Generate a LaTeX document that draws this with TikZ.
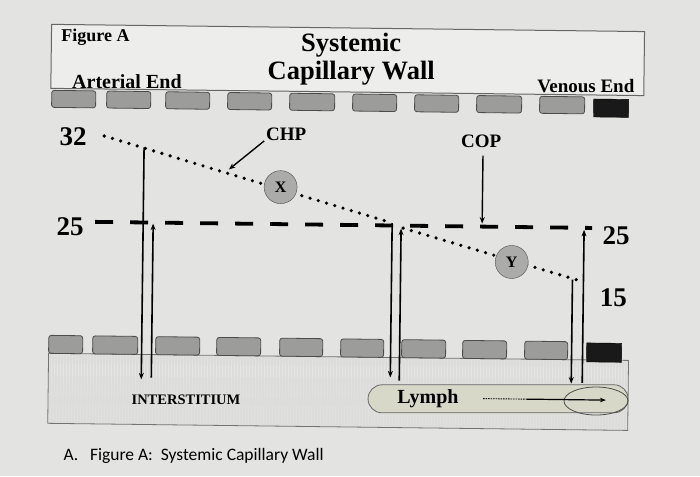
\documentclass[tikz,border=0pt]{standalone}
\usepackage{fontspec}
\setmainfont{Liberation Serif}
\newfontfamily\capfont{Carlito}
\usetikzlibrary{arrows.meta,shapes.geometric}
\definecolor{bgc}{HTML}{E3E3E1}
\definecolor{boxc}{HTML}{EDEDEB}
\definecolor{boxb}{HTML}{DCDCDA}
\definecolor{cellc}{HTML}{9C9C9A}
\definecolor{lymphc}{HTML}{D8D8C8}
\tikzset{
  cell/.style={draw=black!70, fill=cellc, rounded corners=2.5pt, line width=0.8pt},
  blackcell/.style={fill=black!90, draw=black},
  lbl/.style={font=\bfseries\fontsize{27}{29}\selectfont, inner sep=0pt},
  small/.style={font=\bfseries\fontsize{19}{21}\selectfont, inner sep=0pt},
  flow/.style={line width=1.6pt, -{Stealth[length=6.5pt,width=5pt]}},
  dots/.style={line width=3.6pt, line cap=round, dash pattern=on 0pt off 8.6pt},
  dashline/.style={line width=3.8pt, dash pattern=on 18pt off 17pt},
  bubble/.style={circle, draw=black!70, fill=cellc!85, minimum size=33pt, inner sep=0pt, font=\bfseries\fontsize{16}{18}\selectfont}
}
\begin{document}
\begin{tikzpicture}[x=1pt,y=-1pt]
\fill[bgc] (0,0) rectangle (700,476);
\useasboundingbox (0,0) rectangle (700,476);
\begin{scope}[rotate around={-0.7:(350,238)}]
% top box
\draw[fill=boxc, draw=black!60, line width=1pt] (49,28) rectangle (642,92);
\node[font=\bfseries\fontsize{18}{20}\selectfont, inner sep=0pt] (figA) at (93,40) {Figure A};
\node[font=\bfseries\fontsize{26.5}{28}\selectfont, align=center, inner sep=0pt] (title) at (349,59) {Systemic\\Capillary Wall};
\node[font=\bfseries\fontsize{20}{22}\selectfont, inner sep=0pt] (art) at (125,84) {Arterial End};
\node[font=\bfseries\fontsize{19}{21}\selectfont, inner sep=0pt] (ven) at (584,83) {Venous End};
% top cells
\foreach \a/\b in {50/94,105/149,164/208,226/270,288/333,351/395,413/457,475/520,538/583}
  \draw[cell] (\a,94) rectangle (\b,111);
\fill[blackcell] (592,96) rectangle (627,114);
% bottom box
\fill[boxb] (50,357) rectangle (630,427);
\foreach \i in {0,3,...,579} \draw[white!40!boxb, line width=0.4pt] (50+\i,358) -- (50+\i,426);
\draw[draw=black!55, line width=0.8pt] (50,357) rectangle (630,427);
% bottom cells
\foreach \a/\b in {50/84,94/139,157/201,218/262,281/324,342/385,403/447,464/508,526/569}
  \draw[cell] (\a,339) rectangle (\b,357);
\fill[blackcell] (588,340) rectangle (623,359);
% numbers
\node[lbl] (n32) at (72,140) {32};
\node[lbl] (n25l) at (70,230) {25};
\node[lbl] (n25r) at (616,232) {25};
\node[lbl] (n15) at (614,294) {15};
% dashed 25 line
\coordinate (dL) at (95,225);
\coordinate (dR) at (592,225);
\draw[dashline] (dL) -- (dR);
% dotted pressure line
\coordinate (p0) at (103,139);
\coordinate (p1) at (392,222.5);
\coordinate (p2) at (403,227.5);
\coordinate (p3) at (577,277);
\draw[dots] (p0) -- (p1);
\draw[dots] (p2) -- (p3);
\node[bubble] (X) at (280,188) {X};
\node[bubble] (Y) at (512,260) {Y};
% CHP / COP
\node[small] (chp) at (285,135) {CHP};
\coordinate (chpS) at (263,142);
\coordinate (chpT) at (228,171);
\draw[line width=1.4pt, -{Stealth[length=6.5pt,width=5pt]}] (chpS) -- (chpT);
\node[small] (cop) at (480,140) {COP};
\coordinate (copS) at (482,154);
\coordinate (copT) at (482,222);
\draw[line width=1.4pt, -{Stealth[length=6.5pt,width=5pt]}] (copS) -- (copT);
% vertical flows
\coordinate (a1) at (143,150); \coordinate (a2) at (143,382);
\coordinate (b1) at (153,380); \coordinate (b2) at (153,226);
\coordinate (c1) at (392,222.5); \coordinate (c2) at (392,377);
\coordinate (d1) at (401,380); \coordinate (d2) at (401,228);
\coordinate (e1) at (573,277); \coordinate (e2) at (573,381);
\coordinate (f1) at (584,380); \coordinate (f2) at (584,227);
\draw[flow] (a1) -- (a2);
\draw[flow] (b1) -- (b2);
\node[inner sep=0pt, font=\fontsize{14.5}{16}\selectfont\bfseries] (inter) at (188,402) {INTERSTITIUM};
% lymph
\node[draw=black!60, fill=lymphc, line width=0.8pt, rounded corners=14pt, minimum width=260pt, minimum height=28pt] (lymph) at (500,397) {};
\node[ellipse, draw=black!70, line width=0.8pt, minimum width=64pt, minimum height=28pt, inner sep=0pt] (lymphEnd) at (598,398) {};
\node[inner sep=0pt, font=\bfseries\fontsize{20}{22}\selectfont] (lymphT) at (430,398) {Lymph};
\coordinate (l0) at (485,397); \coordinate (l1) at (528,397); \coordinate (l2) at (608,397);
\draw[line width=0.9pt, dash pattern=on 1.5pt off 1pt] (l0) -- (l1);
\draw[line width=1.2pt, -{Stealth[length=6pt,width=4.5pt]}] (l1) -- (l2);
\draw[flow] (c1) -- (c2);
\draw[flow] (d1) -- (d2);
\draw[flow] (e1) -- (e2);
\draw[flow] (f1) -- (f2);
% caption
\node[anchor=west, inner sep=0pt, font=\capfont\fontsize{17.5}{19}\selectfont] (cap) at (66,459) {A.\ \ \ Figure A:\ \ Systemic Capillary Wall};
\end{scope}
\end{tikzpicture}
\end{document}
